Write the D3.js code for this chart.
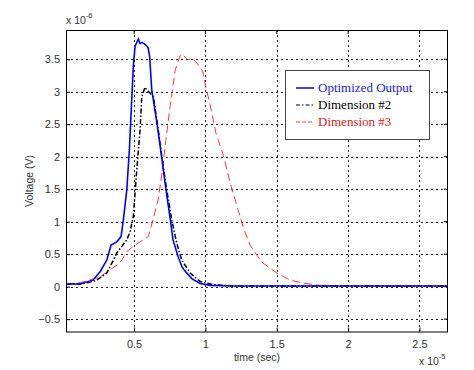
<!DOCTYPE html>
<html><head><meta charset="utf-8">
<script src="https://cdn.jsdelivr.net/npm/d3@7"></script>
<style>body{margin:0;background:#fff}svg{display:block}</style>
</head><body>
<svg id="c" width="474" height="370"></svg>
<script>
const xTicks = [0.5, 1, 1.5, 2, 2.5];
const yTicks = [-0.5, 0, 0.5, 1, 1.5, 2, 2.5, 3, 3.5];
const xLabel = "time (sec)";
const yLabel = "Voltage (V)";
const seriesNames = ["Optimized Output", "Dimension #2", "Dimension #3"];

// time (x 1e-5 s), voltage (x 1e-6 V)
const optT = [0.023,0.121,0.212,0.262,0.309,0.339,0.379,0.409,0.425,0.449,0.467,0.482,0.495,0.507,0.530,0.542,0.556,0.577,0.598,0.609,0.619,0.624,0.661,0.693,0.724,0.756,0.773,0.809,0.837,0.865,0.907,0.963,1.033,1.2,1.6,2.0,2.4,2.7];
const optV = [0.04,0.04,0.10,0.23,0.41,0.64,0.69,0.77,1.03,1.49,2.10,2.80,3.40,3.70,3.81,3.74,3.76,3.73,3.68,3.55,3.20,3.03,2.51,2.00,1.49,1.00,0.72,0.46,0.30,0.22,0.12,0.05,0.02,0.01,0.01,0.01,0.01,0.01];

const d2T = [0.023,0.121,0.191,0.238,0.309,0.355,0.379,0.414,0.449,0.472,0.495,0.519,0.542,0.554,0.577,0.591,0.612,0.635,0.670,0.694,0.729,0.764,0.799,0.834,0.893,0.963,1.054,1.2,1.6,2.0,2.4,2.7];
const d2V = [0.04,0.04,0.07,0.10,0.21,0.41,0.52,0.62,0.72,0.85,1.08,1.80,2.41,2.92,3.07,3.02,2.98,2.92,2.41,2.00,1.49,1.03,0.67,0.41,0.21,0.08,0.03,0.01,0.01,0.01,0.01,0.01];

const d3T = [0.023,0.121,0.262,0.332,0.379,0.414,0.449,0.495,0.549,0.600,0.635,0.670,0.696,0.717,0.752,0.788,0.823,0.837,0.875,0.910,0.942,0.980,1.005,1.033,1.075,1.126,1.173,1.220,1.267,1.313,1.355,1.405,1.501,1.594,1.699,1.805,1.980,2.3,2.7];
const d3V = [0.04,0.06,0.15,0.26,0.33,0.41,0.54,0.62,0.70,0.77,1.05,1.35,1.75,2.15,2.77,3.33,3.56,3.58,3.49,3.51,3.44,3.32,3.05,2.80,2.35,2.02,1.60,1.25,0.90,0.64,0.50,0.36,0.21,0.10,0.05,0.02,0.01,0.01,0.01];

const svg = d3.select("#c");
const L = 66, R = 448, T = 30, B = 331.5;
const x = d3.scaleLinear().domain([0.023, 2.7]).range([L, R]);
const y = d3.scaleLinear().domain([-0.69, 3.95]).range([B, T]);
const font = "'Liberation Sans', Arial, sans-serif";
const serif = "'Liberation Serif', 'Times New Roman', serif";

// grid
const g = svg.append("g");
g.selectAll(".gx").data(xTicks).join("line")
  .attr("x1", d => Math.round(x(d)) + 0.5).attr("x2", d => Math.round(x(d)) + 0.5)
  .attr("y1", T).attr("y2", B)
  .attr("stroke", "#222").attr("stroke-width", 1).attr("stroke-dasharray", "2,3");
g.selectAll(".gy").data(yTicks).join("line")
  .attr("y1", d => Math.round(y(d)) + 0.5).attr("y2", d => Math.round(y(d)) + 0.5)
  .attr("x1", L).attr("x2", R)
  .attr("stroke", "#222").attr("stroke-width", 1).attr("stroke-dasharray", "2,3");

// axes via d3 axes (inward ticks)
const xAx = svg.append("g").attr("transform", `translate(0,${B})`)
  .call(d3.axisBottom(x).tickValues(xTicks).tickSize(-4).tickPadding(9).tickFormat(d3.format("")));
const yAx = svg.append("g").attr("transform", `translate(${L},0)`)
  .call(d3.axisLeft(y).tickValues(yTicks).tickSize(-4).tickPadding(6).tickFormat(d3.format("")));
[xAx, yAx].forEach(a => {
  a.select(".domain").remove();
  a.selectAll(".tick line").attr("stroke", "#000");
  a.selectAll("text").attr("font-family", font).attr("font-size", 11).attr("fill", "#333");
});
// box
svg.append("rect").attr("x", L + 0.5).attr("y", T + 0.5).attr("width", R - L - 1).attr("height", B - T)
  .attr("fill", "none").attr("stroke", "#000").attr("stroke-width", 1);
// top/right ticks
svg.append("g").selectAll("line").data(xTicks).join("line")
  .attr("x1", d => x(d)).attr("x2", d => x(d)).attr("y1", T).attr("y2", T + 4).attr("stroke", "#000");
svg.append("g").selectAll("line").data(yTicks).join("line")
  .attr("y1", d => y(d)).attr("y2", d => y(d)).attr("x1", R).attr("x2", R - 4).attr("stroke", "#000");

// lines
const line = d3.line().x(d => x(d[0])).y(d => y(d[1]));
const clip = svg.append("clipPath").attr("id", "clp").append("rect")
  .attr("x", L).attr("y", T).attr("width", R - L).attr("height", B - T);
const series = [
  {t: d3T, v: d3V, color: "#f03c3c", w: 1, dash: "8,4"},
  {t: d2T, v: d2V, color: "#000", w: 1.5, dash: "5,2,1.5,2"},
  {t: optT, v: optV, color: "#0000ff", w: 1.6, dash: null}
];
series.forEach(s => {
  svg.append("path").datum(d3.zip(s.t, s.v)).attr("d", line)
    .attr("clip-path", "url(#clp)")
    .attr("fill", "none").attr("stroke", s.color).attr("stroke-width", s.w)
    .attr("stroke-dasharray", s.dash);
});

// labels
svg.append("text").attr("x", (L + R) / 2).attr("y", 361).attr("text-anchor", "middle")
  .attr("font-family", font).attr("font-size", 10.5).attr("fill", "#333").text(xLabel);
svg.append("text").attr("transform", `translate(33,181) rotate(-90)`).attr("text-anchor", "middle")
  .attr("font-family", font).attr("font-size", 10.5).attr("fill", "#333").text(yLabel);

// exponent labels
function expo(px, py, exp) {
  const t = svg.append("text").attr("x", px).attr("y", py)
    .attr("font-family", font).attr("font-size", 10.5).attr("fill", "#333");
  t.append("tspan").text("x 10");
  t.append("tspan").attr("dy", -6).attr("font-size", 7.5).text(exp);
}
expo(66, 24, "-6");
expo(419, 365, "-5");

// legend
const lg = svg.append("g");
lg.append("rect").attr("x", 285.5).attr("y", 70.5).attr("width", 144).attr("height", 69)
  .attr("fill", "#fff").attr("stroke", "#444").attr("stroke-width", 1);
const legendRows = [
  {name: seriesNames[0], color: "#0000ff", dash: null, w: 1.5, tc: "#2020e0"},
  {name: seriesNames[1], color: "#000", dash: "4,2,1.5,2", w: 1, tc: "#000"},
  {name: seriesNames[2], color: "#f03c3c", dash: "4,2", w: 1, tc: "#e02020"}
];
legendRows.forEach((r, i) => {
  const yy = 88 + i * 17;
  lg.append("line").attr("x1", 296).attr("x2", 314).attr("y1", yy).attr("y2", yy)
    .attr("stroke", r.color).attr("stroke-width", r.w).attr("stroke-dasharray", r.dash);
  lg.append("text").attr("x", 318).attr("y", yy + 4).attr("font-family", serif)
    .attr("font-size", 13).attr("fill", r.tc).text(r.name);
});
</script>
</body></html>
